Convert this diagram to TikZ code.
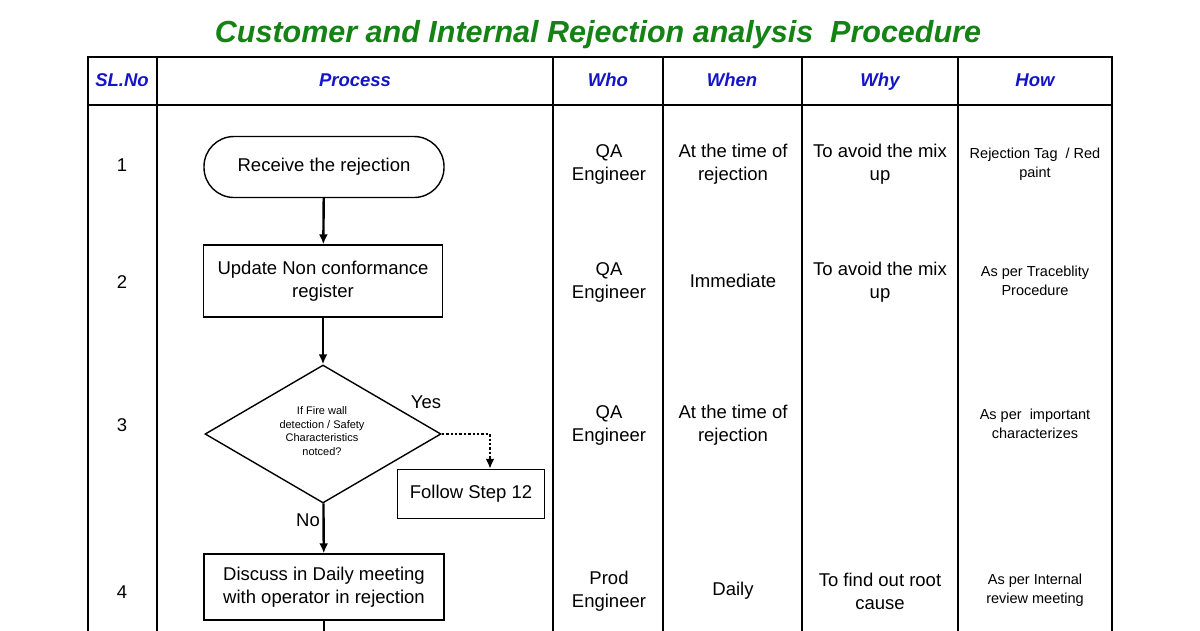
\documentclass[tikz,border=0pt]{standalone}
\usepackage{fontspec}
\setmainfont{Liberation Sans}
\usetikzlibrary{shapes.geometric,arrows.meta}
\definecolor{ttl}{RGB}{20,130,20}
\definecolor{hdr}{RGB}{20,20,200}
\begin{document}
\begin{tikzpicture}[x=1pt,y=-1pt,
  grid/.style={line width=2.8pt},
  hd/.style={font=\fontsize{18.5}{18.5}\selectfont\bfseries\itshape,text=hdr,text height=13pt,text depth=4pt},
  tx/.style={font=\fontsize{18.5}{23}\selectfont,align=center},
  sm/.style={font=\fontsize{14.5}{19}\selectfont,align=center},
  box/.style={draw,line width=1.4pt},
  arr/.style={line width=2.4pt,-{Latex[length=10pt,width=9pt]}}]
\useasboundingbox (0,0) rectangle (1200,630);
\node[font=\fontsize{30.5}{30.5}\selectfont\bfseries\itshape,text=ttl,text height=21pt,text depth=6pt] (title) at (598,35) {Customer and Internal Rejection analysis\ \ Procedure};
% table
\draw[grid] (88,640) -- (88,57) -- (1112,57) -- (1112,640);
\draw[grid] (88,105) -- (1112,105);
\foreach \x in {157,553,663,802,958} \draw[grid] (\x,57) -- (\x,640);
\node[hd] (h1) at (122,82) {SL.No};
\node[hd] (h2) at (355,82) {Process};
\node[hd] (h3) at (608,82) {Who};
\node[hd] (h4) at (732,82) {When};
\node[hd] (h5) at (880,82) {Why};
\node[hd] (h6) at (1035,82) {How};
% numbers
\node[tx] (n1) at (122,165) {1};
\node[tx] (n2) at (122,282) {2};
\node[tx] (n3) at (122,425) {3};
\node[tx] (n4) at (122,592) {4};
% flow
\node[box,tx,rounded corners=30pt,minimum width=240pt,minimum height=61pt] (s1) at (324,167) {Receive the rejection};
\node[box,tx,minimum width=239pt,minimum height=72pt] (s2) at (323,281) {Update Non conformance\\register};
\node[box,draw,diamond,aspect=1.71,minimum width=236pt,minimum height=138pt,inner sep=0pt] (d3) at (323,434) {};
\node[font=\fontsize{11}{13.5}\selectfont,align=center] (d3t) at (322,431) {If Fire wall\\detection / Safety\\Characteristics\\notced?};
\node[box,tx,minimum width=147pt,minimum height=49pt] (f12) at (471,494) {Follow Step 12};
\node[box,tx,minimum width=240pt,minimum height=66pt] (s4) at (324,587) {Discuss in Daily meeting\\with operator in rejection};
\coordinate (c1) at (490,434);
\coordinate (c2) at (324,640);
\draw[arr] (s1) -- (s2);
\draw[arr] (s2) -- (d3);
\draw[arr] (d3) -- (s4);
\draw[arr,dotted,line width=2.6pt] (d3.east) -- (c1) -- (f12.north -| c1);
\draw[line width=1.4pt] (s4) -- (c2);
\node[tx] (yes) at (426,402) {Yes};
\node[tx] (no) at (308,520) {No};
% who
\node[tx] (w1) at (609,164) {QA\\Engineer};
\node[tx] (w2) at (609,282) {QA\\Engineer};
\node[tx] (w3) at (609,425) {QA\\Engineer};
\node[tx] (w4) at (609,591) {Prod\\Engineer};
% when
\node[tx] (t1) at (733,164) {At the time of\\rejection};
\node[tx] (t2) at (733,281) {Immediate};
\node[tx] (t3) at (733,425) {At the time of\\rejection};
\node[tx] (t4) at (733,591) {Daily};
% why
\node[tx] (y1) at (880,164) {To avoid the mix\\up};
\node[tx] (y2) at (880,282) {To avoid the mix\\up};
\node[tx] (y4) at (880,591) {To find out root\\cause};
% how
\node[sm] (o1) at (1035,164) {Rejection Tag\ \ / Red\\paint};
\node[sm] (o2) at (1035,281) {As per Traceblity\\Procedure};
\node[sm] (o3) at (1035,424) {As per\ \ important\\characterizes};
\node[sm] (o4) at (1035,590) {As per Internal\\review meeting};
\end{tikzpicture}
\end{document}
